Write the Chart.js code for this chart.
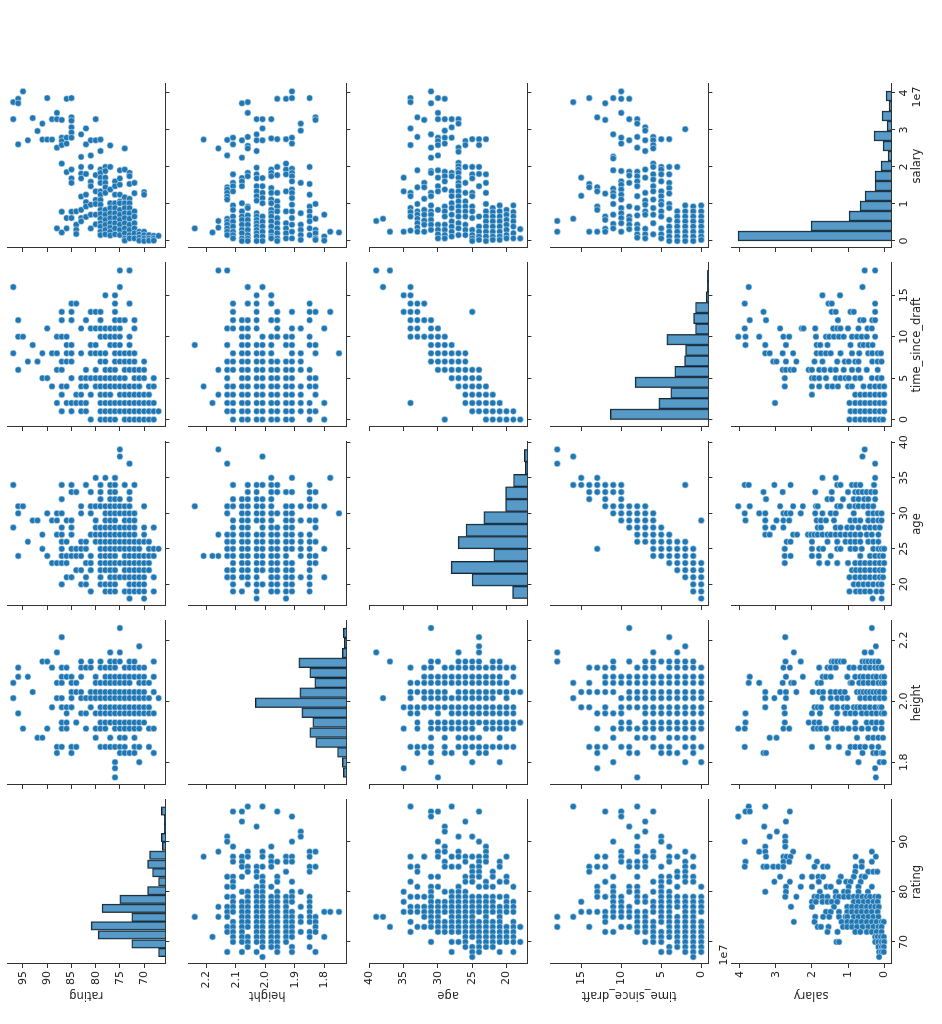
<!DOCTYPE html>
<html>
<head>
<meta charset="utf-8">
<title>pairplot</title>
<script src="https://cdn.jsdelivr.net/npm/chart.js@4"></script>
<style>
    html, body { margin: 0; padding: 0; background: #fff; overflow: hidden; width: 942px; height: 1024px; }
    /* the whole figure lies on its side, so the grid is turned a quarter left */
    #figure { position: absolute; left: 0; top: 1024px; width: 1024px; height: 942px; transform-origin: 0 0; transform: rotate(-90deg); }
    #figure canvas { position: absolute; }
</style>
</head>
<body>
<div id="figure"></div>
<script>
const variables = ['rating', 'height', 'age', 'time_since_draft', 'salary'];

// axis ranges and ticks, salary in units of 1e7
const axisMin = [65.6, 1.725, 16.95, -0.9, -0.19];
const axisMax = [98.3, 2.263, 40.05, 18.9, 4.24];
const xTicks = [[70, 80, 90], [1.8, 2.0, 2.2], [20, 25, 30, 35, 40], [0, 5, 10, 15], [0, 1, 2, 3, 4]];
const yTicks = [[70, 75, 80, 85, 90, 95], [1.8, 1.9, 2.0, 2.1, 2.2], [20, 25, 30, 35, 40], [0, 5, 10, 15], [0, 1, 2, 3, 4]];

// values that occur in the picture, one row of the lists below per level
const heightLevels = [2.24, 2.21, 2.18, 2.16, 2.13, 2.11, 2.08, 2.06, 2.03, 2.01, 1.98, 1.96, 1.93, 1.91, 1.88, 1.85, 1.83, 1.80, 1.78, 1.75];
const ageLevels = [39, 38, 37, 35, 34, 33, 32, 31, 30, 29, 28, 27, 26, 25, 24, 23, 22, 21, 20, 19, 18];
const timeLevels = [18, 16, 15, 14, 13, 12, 11, 10, 9, 8, 7, 6, 5, 4, 3, 2, 1, 0];
const ratingLevels = [97, 96, 95, 94, 93, 92, 91, 90, 89, 88, 87, 86, 85, 84, 83, 82, 81, 80, 79, 78, 77, 76, 75, 74, 73, 72, 71, 70, 69, 68, 67];

const ratingAtHeight = [
    [75], [87], [71], [88, 77, 75],
    [91, 90, 83, 81, 79, 77, 76, 75, 73, 72, 68],
    [96, 89, 87, 86, 83, 82, 81, 79, 78, 77, 76, 74, 73, 72, 71, 70],
    [96, 94, 87, 86, 85, 83, 80, 78, 77, 76, 75, 74, 73, 72, 71, 70, 68],
    [97, 88, 87, 85, 84, 80, 79, 78, 77, 76, 75, 74, 73, 71, 70, 69],
    [93, 85, 84, 83, 81, 80, 79, 78, 77, 76, 75, 74, 73, 72, 71, 70, 68],
    [97, 88, 87, 85, 83, 82, 81, 80, 79, 78, 77, 76, 75, 74, 73, 72, 71, 70, 69, 67],
    [89, 87, 86, 85, 81, 79, 78, 77, 76, 75, 74, 73, 72, 71, 70, 69],
    [96, 86, 83, 82, 80, 79, 78, 77, 76, 75, 74, 73, 72, 71, 70, 69, 68],
    [87, 86, 84, 79, 78, 77, 76, 75, 74, 73, 72, 71, 70],
    [95, 90, 87, 86, 82, 80, 79, 78, 76, 75, 74, 73, 72, 71, 69, 68],
    [92, 91, 80, 77, 75, 74, 72],
    [88, 87, 85, 84, 79, 78, 77, 76, 75, 74, 72, 71, 69],
    [88, 85, 75, 74, 73, 72, 68],
    [76, 71], [76], [76]
];
const heightAtAge = [
    [2.16], [2.01], [2.13],
    [1.98, 1.91, 1.78],
    [2.11, 2.06, 2.03, 2.01, 1.98, 1.96, 1.85],
    [2.06, 2.03, 1.98, 1.96, 1.93, 1.91, 1.85, 1.83],
    [2.11, 2.08, 2.06, 2.03, 2.01, 1.98, 1.85],
    [2.24, 2.13, 2.11, 2.08, 2.06, 2.03, 2.01, 1.98, 1.93, 1.91, 1.88, 1.85, 1.83, 1.80],
    [2.13, 2.08, 2.06, 2.03, 2.01, 1.98, 1.96, 1.93, 1.91, 1.75],
    [2.11, 2.08, 2.06, 2.03, 2.01, 1.98, 1.93, 1.91, 1.88, 1.85, 1.83],
    [2.11, 2.08, 2.06, 2.01, 1.98, 1.96, 1.93, 1.91, 1.83],
    [2.16, 2.13, 2.11, 2.08, 2.06, 2.03, 2.01, 1.98, 1.96, 1.93, 1.91, 1.88, 1.85],
    [2.13, 2.11, 2.08, 2.06, 2.03, 2.01, 1.98, 1.96, 1.93, 1.91, 1.88, 1.85, 1.83],
    [2.13, 2.11, 2.08, 2.06, 2.03, 2.01, 1.98, 1.96, 1.93, 1.91, 1.88, 1.85, 1.80],
    [2.21, 2.18, 2.16, 2.13, 2.11, 2.08, 2.06, 2.03, 2.01, 1.98, 1.96, 1.93, 1.88, 1.85, 1.83],
    [2.11, 2.08, 2.06, 2.03, 2.01, 1.98, 1.96, 1.93, 1.91, 1.85, 1.83],
    [2.13, 2.11, 2.08, 2.06, 2.03, 2.01, 1.98, 1.96, 1.93, 1.91, 1.85],
    [2.13, 2.11, 2.08, 2.06, 2.03, 1.98, 1.96, 1.93, 1.91, 1.88, 1.85, 1.80],
    [2.11, 2.06, 2.03, 2.01, 1.98, 1.96, 1.93, 1.91, 1.85],
    [2.11, 2.08, 2.03, 1.98, 1.96, 1.93, 1.91, 1.85],
    [2.03, 1.93]
];
const heightAtTime = [
    [2.16, 2.13], [2.06, 2.01], [2.03, 1.98],
    [2.11, 2.06, 2.03, 1.98, 1.85],
    [2.11, 2.03, 1.96, 1.91, 1.85, 1.83, 1.78],
    [2.11, 2.08, 2.06, 2.03, 1.98, 1.96, 1.85],
    [2.13, 2.11, 2.08, 2.06, 2.03, 1.96, 1.91, 1.88, 1.80],
    [2.08, 2.06, 2.01, 1.98, 1.96, 1.93, 1.91, 1.85],
    [2.24, 2.13, 2.08, 2.06, 2.03, 2.01, 1.98, 1.93, 1.91, 1.85, 1.83],
    [2.11, 2.08, 2.06, 2.03, 2.01, 1.98, 1.91, 1.88, 1.83, 1.75],
    [2.13, 2.11, 2.08, 2.06, 2.03, 2.01, 1.98, 1.96, 1.93, 1.91, 1.88],
    [2.16, 2.13, 2.11, 2.08, 2.06, 2.03, 2.01, 1.98, 1.96, 1.93, 1.91, 1.88, 1.85],
    [2.13, 2.08, 2.06, 2.03, 2.01, 1.98, 1.96, 1.93, 1.91, 1.85, 1.83],
    [2.21, 2.13, 2.11, 2.08, 2.06, 2.03, 2.01, 1.98, 1.96, 1.93, 1.91, 1.88, 1.85, 1.83],
    [2.16, 2.13, 2.11, 2.08, 2.06, 2.03, 2.01, 1.98, 1.96, 1.93, 1.91, 1.88, 1.83],
    [2.18, 2.13, 2.11, 2.08, 2.06, 2.03, 2.01, 1.98, 1.96, 1.93, 1.91, 1.88, 1.85, 1.80],
    [2.13, 2.11, 2.08, 2.06, 2.03, 2.01, 1.98, 1.96, 1.93, 1.91, 1.88, 1.85, 1.83],
    [2.11, 2.08, 2.06, 2.03, 2.01, 1.98, 1.96, 1.93, 1.91, 1.85, 1.80]
];
const ratingAtAge = [
    [75], [75], [73],
    [80, 78, 76],
    [97, 87, 85, 82, 79, 77, 76, 74, 72],
    [85, 84, 81, 79, 77, 76, 73],
    [87, 79, 77, 76, 75, 73],
    [96, 95, 83, 81, 80, 79, 78, 77, 76, 75, 74, 73, 70],
    [96, 90, 88, 87, 83, 81, 78, 77, 76, 75, 74, 73, 72],
    [93, 92, 89, 88, 86, 85, 80, 78, 77, 76, 74, 73, 72],
    [97, 87, 85, 80, 79, 78, 77, 76, 75, 74, 73, 72, 70, 68],
    [91, 88, 87, 85, 81, 80, 79, 78, 77, 76, 75, 74, 73, 72, 70],
    [94, 87, 86, 83, 82, 80, 79, 78, 77, 76, 75, 74, 73, 72, 71, 70, 69],
    [91, 87, 85, 84, 83, 82, 79, 78, 77, 76, 75, 74, 73, 72, 71, 69, 68, 67],
    [96, 90, 87, 86, 85, 84, 83, 81, 79, 78, 77, 76, 74, 73, 72, 71, 70, 69, 68],
    [89, 88, 87, 86, 82, 81, 79, 78, 77, 76, 75, 74, 73, 72, 71, 70, 69],
    [84, 83, 81, 79, 78, 77, 76, 74, 73, 72, 71, 70, 69],
    [86, 85, 82, 79, 77, 76, 75, 74, 73, 72, 71, 70, 68],
    [87, 83, 82, 79, 78, 77, 76, 73, 72, 71, 70],
    [81, 78, 77, 76, 74, 73, 72, 71, 70, 68],
    [73, 70]
];
const ratingAtTime = [
    [75, 73], [97, 75], [78, 76],
    [85, 84, 76, 73],
    [87, 85, 81, 80, 79, 76],
    [96, 87, 85, 82, 79, 76, 75, 74, 72],
    [90, 83, 81, 80, 79, 78, 77, 76, 75, 72],
    [96, 95, 88, 87, 86, 79, 78, 77, 76, 75, 73],
    [93, 86, 85, 81, 80, 77, 76, 75, 73],
    [97, 91, 89, 88, 86, 85, 83, 81, 80, 79, 78, 76, 75, 74, 73, 72],
    [94, 92, 87, 86, 85, 79, 78, 76, 75, 74, 73, 72, 70],
    [96, 88, 87, 82, 80, 78, 77, 76, 74, 73, 72, 71, 70],
    [91, 90, 85, 83, 82, 81, 80, 79, 78, 77, 76, 75, 74, 72, 71, 70, 68],
    [89, 87, 86, 83, 82, 80, 79, 78, 77, 76, 75, 74, 73, 72, 71, 69, 68],
    [87, 84, 83, 81, 79, 78, 77, 75, 74, 73, 72, 71, 70, 69],
    [88, 86, 85, 84, 83, 82, 79, 78, 77, 76, 75, 74, 73, 72, 71, 70, 69, 68],
    [87, 85, 83, 82, 79, 78, 77, 76, 75, 74, 73, 72, 71, 70, 69, 68, 67],
    [81, 79, 78, 77, 76, 74, 73, 72, 71, 70, 69, 68]
];
const ageAtTime = [
    [39, 37], [38, 34], [35, 34], [34, 33, 32], [35, 34, 33, 25], [34, 33, 32, 31],
    [34, 33, 31, 30], [34, 33, 32, 31, 30, 29], [31, 30, 29, 28], [31, 30, 29, 28, 27, 26],
    [31, 30, 29, 28, 27, 26], [30, 29, 28, 27, 26, 25, 24], [28, 27, 26, 25, 24],
    [27, 26, 25, 24, 23], [26, 25, 24, 23, 22], [34, 26, 25, 24, 23, 22, 21],
    [25, 24, 23, 22, 21, 20, 19], [29, 23, 22, 21, 20, 19, 18]
];
const salaryAtRating = [
    [3.75, 3.29], [3.84, 3.72, 2.61], [4.04], [2.72], [3.32], [2.97], [3.17, 2.74], [3.86, 2.74], [3.29, 2.74],
    [3.46, 3.29, 2.52, 0.34],
    [3.27, 2.79, 2.70, 2.59, 2.09, 0.79, 0.23],
    [3.84, 2.79, 2.63, 1.86, 0.62, 0.34],
    [3.86, 3.34, 3.25, 3.07, 2.93, 2.79, 1.93, 1.69, 1.57, 0.79, 0.62],
    [0.80, 0.44, 0.30, 0.19],
    [2.88, 2.27, 2.00, 1.82, 1.69, 1.20, 0.84, 0.62, 0.53],
    [3.04, 2.61, 1.81, 1.25, 1.05, 0.93, 0.65],
    [2.72, 2.31, 2.00, 1.60, 1.48, 0.98, 0.71, 0.34],
    [3.29, 2.72, 1.78, 1.34, 1.11, 1.00, 0.71, 0.45],
    [2.74, 2.43, 1.93, 1.84, 1.71, 1.57, 1.34, 1.25, 1.11, 0.98, 0.84, 0.73, 0.60, 0.48, 0.39, 0.25, 0.16],
    [2.00, 1.89, 1.71, 1.57, 1.45, 1.30, 0.84, 0.71, 0.57, 0.44, 0.30, 0.18],
    [2.58, 2.00, 1.39, 1.02, 0.89, 0.75, 0.62, 0.48, 0.36, 0.25, 0.15],
    [1.61, 1.48, 1.25, 1.02, 0.89, 0.75, 0.62, 0.48, 0.34, 0.18],
    [1.91, 1.69, 1.52, 1.25, 1.07, 1.02, 0.84, 0.71, 0.57, 0.44, 0.30, 0.16],
    [2.50, 1.93, 1.18, 1.02, 0.89, 0.75, 0.62, 0.48, 0.34, 0.21, 0.07, 0.01],
    [1.84, 1.75, 1.54, 1.14, 1.02, 0.89, 0.75, 0.60, 0.44, 0.30, 0.16, 0.07],
    [1.57, 1.29, 0.80, 0.66, 0.48, 0.34, 0.21, 0.07],
    [0.25, 0.18, 0.09, 0.01],
    [1.32, 1.25, 0.25, 0.16, 0.07, 0.00],
    [0.16, 0.07, 0.01],
    [0.14, 0.07, 0.01],
    [0.14]
];
const salaryAtHeight = [
    [0.34], [2.74], [0.23], [2.50, 0.54, 0.36],
    [2.73, 2.31, 1.45, 1.39, 1.30, 1.20, 1.12, 0.60, 0.52, 0.44, 0.34, 0.25, 0.16],
    [2.79, 2.61, 1.80, 1.57, 1.48, 1.34, 0.96, 0.84, 0.66, 0.52, 0.39, 0.25, 0.16, 0.07],
    [3.72, 2.72, 2.25, 1.70, 1.61, 1.48, 1.02, 0.80, 0.66, 0.57, 0.44, 0.30, 0.21, 0.07, 0.00],
    [3.75, 3.46, 2.81, 2.57, 2.50, 1.84, 1.75, 0.93, 0.89, 0.69, 0.57, 0.44, 0.30, 0.16, 0.07, 0.00],
    [3.29, 2.88, 2.72, 2.43, 1.98, 1.80, 1.69, 1.48, 1.34, 1.21, 1.09, 0.75, 0.66, 0.57, 0.48, 0.39, 0.30, 0.21, 0.12, 0.00],
    [3.29, 3.04, 2.72, 1.70, 1.48, 1.30, 1.16, 1.02, 0.66, 0.52, 0.39, 0.25, 0.12, 0.00],
    [3.29, 2.77, 1.93, 1.84, 1.75, 1.43, 1.30, 1.12, 1.02, 0.84, 0.75, 0.66, 0.53, 0.39, 0.25, 0.12, 0.07],
    [3.84, 2.75, 2.00, 1.78, 1.30, 1.07, 0.93, 0.80, 0.62, 0.48, 0.34, 0.21, 0.07, 0.00],
    [3.84, 2.75, 2.09, 1.93, 1.80, 1.34, 0.80, 0.48, 0.34, 0.21, 0.07],
    [4.04, 3.86, 2.79, 2.63, 1.95, 1.84, 1.75, 1.61, 1.39, 1.30, 1.16, 0.98, 0.80, 0.62, 0.44, 0.25, 0.07],
    [3.17, 2.98, 1.57, 0.75, 0.44, 0.30, 0.16, 0.03],
    [3.86, 2.00, 1.54, 1.25, 0.93, 0.80, 0.66, 0.53, 0.34, 0.16],
    [3.34, 3.27, 1.00, 0.60, 0.30, 0.21, 0.07, 0.03],
    [0.71, 0.12, 0.01], [0.25], [0.23]
];
const salaryAtAge = [
    [0.54], [0.60], [0.25],
    [1.71, 1.34, 0.25],
    [3.86, 3.75, 3.04, 2.59, 1.30, 1.21, 0.89, 0.78, 0.66, 0.28],
    [3.34, 2.81, 1.91, 1.45, 1.00, 0.80, 0.71, 0.60, 0.48, 0.36, 0.25],
    [3.27, 1.57, 1.45, 1.14, 0.84, 0.71, 0.55, 0.44, 0.25],
    [4.04, 3.72, 2.88, 2.52, 2.25, 1.89, 1.84, 1.30, 1.21, 0.96, 0.80, 0.71, 0.57, 0.44, 0.30],
    [3.86, 3.46, 3.29, 2.79, 2.70, 2.59, 2.31, 1.91, 1.71, 1.48, 1.34, 0.84, 0.44, 0.30, 0.18, 0.07],
    [3.84, 3.29, 2.98, 2.79, 2.63, 1.87, 1.75, 1.61, 1.39, 0.93, 0.80, 0.66, 0.44, 0.30, 0.16, 0.07],
    [3.29, 3.07, 2.79, 1.84, 1.75, 1.34, 1.21, 1.02, 0.89, 0.71, 0.53, 0.39, 0.25, 0.12],
    [3.29, 3.17, 2.52, 2.41, 2.11, 2.02, 1.93, 1.84, 1.71, 1.57, 1.48, 1.34, 1.21, 1.07, 0.93, 0.80, 0.66, 0.48, 0.34, 0.16],
    [2.70, 2.59, 2.00, 1.57, 1.30, 1.07, 0.93, 0.80, 0.66, 0.44, 0.30, 0.16],
    [2.75, 2.00, 1.80, 1.69, 1.30, 1.21, 0.93, 0.80, 0.62, 0.30, 0.16, 0.07, 0.00],
    [2.75, 2.59, 2.00, 1.81, 1.48, 0.66, 0.39, 0.25, 0.12, 0.03],
    [2.75, 1.80, 1.57, 1.30, 1.00, 0.80, 0.66, 0.53, 0.39, 0.25, 0.12, 0.00],
    [0.89, 0.78, 0.66, 0.53, 0.39, 0.25, 0.12, 0.03],
    [0.96, 0.80, 0.66, 0.53, 0.39, 0.25, 0.12, 0.03],
    [0.84, 0.71, 0.57, 0.44, 0.30, 0.16, 0.07],
    [0.96, 0.78, 0.66, 0.53, 0.39, 0.21, 0.07],
    [0.32, 0.07]
];
const salaryAtTime = [
    [0.54, 0.25], [3.75, 0.60], [1.71, 1.22],
    [3.86, 1.54, 1.45, 0.25],
    [3.34, 1.45, 1.34, 0.93, 0.84, 0.25],
    [3.72, 3.27, 1.28, 0.66, 0.57, 0.33, 0.25],
    [3.86, 2.88, 2.28, 2.23, 1.91, 1.41, 1.30, 1.21, 1.00, 0.71, 0.46, 0.34],
    [4.04, 3.84, 3.46, 2.79, 2.63, 1.89, 1.61, 1.52, 1.39, 1.25, 1.12, 0.89, 0.75, 0.62, 0.48, 0.25],
    [3.84, 3.29, 2.72, 1.87, 1.77, 1.57, 0.93, 0.66, 0.57, 0.44, 0.32],
    [3.29, 3.17, 2.81, 2.52, 1.87, 1.75, 1.61, 1.48, 1.21, 0.89, 0.69, 0.44, 0.33, 0.18, 0.09],
    [3.07, 2.98, 2.72, 2.43, 1.93, 1.71, 1.30, 1.09, 0.98, 0.80, 0.71, 0.33, 0.18, 0.07],
    [2.81, 2.72, 2.59, 2.50, 2.09, 2.00, 1.80, 1.66, 1.48, 1.34, 1.12, 0.89, 0.71, 0.48, 0.18],
    [2.75, 2.00, 1.93, 1.80, 1.61, 1.34, 1.21, 1.07, 0.98, 0.80, 0.66, 0.34, 0.18, 0.07],
    [2.75, 2.00, 1.80, 1.57, 1.43, 1.28, 1.00, 0.89, 0.57, 0.39, 0.25, 0.12, 0.00],
    [2.00, 0.80, 0.66, 0.53, 0.39, 0.25, 0.12, 0.00],
    [3.02, 0.96, 0.80, 0.66, 0.53, 0.39, 0.25, 0.12, 0.00],
    [0.93, 0.80, 0.66, 0.53, 0.39, 0.25, 0.12, 0.00],
    [0.96, 0.80, 0.66, 0.53, 0.39, 0.25, 0.12, 0.03]
];

// histograms: bin centres and counts
const ratingBins = [67.9, 69.6, 71.4, 73.2, 74.9, 76.7, 78.5, 80.2, 82.0, 83.8, 85.5, 87.3, 89.1, 90.8, 92.6, 94.4, 96.1];
const ratingCounts = [7, 34, 68, 75, 34, 64, 46, 18, 7, 13, 18, 16, 3, 4, 1, 1, 4];
const heightBins = [1.766, 1.799, 1.832, 1.864, 1.897, 1.930, 1.962, 1.995, 2.028, 2.060, 2.093, 2.126, 2.158, 2.191, 2.224];
const heightCounts = [3, 4, 9, 31, 37, 34, 45, 92, 47, 32, 37, 48, 4, 2, 3];
const ageBins = [18.875, 20.625, 22.375, 24.125, 25.875, 27.625, 29.375, 31.125, 32.875, 34.625, 36.375, 38.125];
const ageCounts = [15, 56, 77, 34, 70, 62, 44, 22, 22, 14, 2, 3];
const timeBins = [0.64, 1.93, 3.21, 4.5, 5.79, 7.07, 8.36, 9.64, 10.93, 12.21, 13.5, 14.79, 16.07, 17.36];
const timeCounts = [99, 50, 38, 74, 34, 24, 23, 42, 13, 15, 13, 2, 1, 1];
const salaryBins = [0.135, 0.405, 0.675, 0.945, 1.215, 1.485, 1.755, 2.025, 2.295, 2.565, 2.835, 3.105, 3.375, 3.645, 3.915];
const salaryCounts = [153, 80, 42, 31, 26, 16, 16, 10, 3, 8, 17, 4, 9, 2, 5];

const histBins = [ratingBins, heightBins, ageBins, timeBins, salaryBins];
const histCounts = [ratingCounts, heightCounts, ageCounts, timeCounts, salaryCounts];

// turn "values per level" rows into points with both variables named
function rowsToPoints(rows, rowName, levels, levelName) {
    const points = [];
    rows.forEach((row, k) => {
        row.forEach(v => {
            points.push({ [rowName]: v, [levelName]: levels[k] });
        });
    });
    return points;
}

const pairPoints = [
    rowsToPoints(ratingAtHeight, 'rating', heightLevels, 'height'),
    rowsToPoints(ratingAtAge, 'rating', ageLevels, 'age'),
    rowsToPoints(ratingAtTime, 'rating', timeLevels, 'time_since_draft'),
    rowsToPoints(salaryAtRating, 'salary', ratingLevels, 'rating'),
    rowsToPoints(heightAtAge, 'height', ageLevels, 'age'),
    rowsToPoints(heightAtTime, 'height', timeLevels, 'time_since_draft'),
    rowsToPoints(salaryAtHeight, 'salary', heightLevels, 'height'),
    rowsToPoints(ageAtTime, 'age', timeLevels, 'time_since_draft'),
    rowsToPoints(salaryAtAge, 'salary', ageLevels, 'age'),
    rowsToPoints(salaryAtTime, 'salary', timeLevels, 'time_since_draft')
];

function pointsFor(xName, yName) {
    const list = pairPoints.find(p => xName in p[0] && yName in p[0]);
    return list.map(p => ({ x: p[xName], y: p[yName] }));
}

// panel positions in the unrotated figure
const colLeft = [60, 239, 418, 597, 776];
const rowTop = [7, 188, 369, 550, 731];
const plotW = 164;
const plotH = 160;
const pad = 14;

const textColor = '#262626';
const lineColor = '#333333';
const tickFont = { family: 'DejaVu Sans', size: 11 };

// offset text of the salary axes
const offsetText = {
    id: 'offsetText',
    afterDraw(chart, args, opts) {
        if (!opts.x && !opts.y) return;
        const ctx = chart.ctx, area = chart.chartArea;
        ctx.save();
        ctx.font = '11px "DejaVu Sans"';
        ctx.fillStyle = textColor;
        ctx.textAlign = 'center';
        ctx.textBaseline = 'middle';
        if (opts.x) ctx.fillText('1e7', area.right - 13, area.bottom + 26);
        if (opts.y) ctx.fillText('1e7', area.left + 9, area.top - 7);
        ctx.restore();
    }
};

function tickLabel(varIndex, value) {
    return varIndex === 1 ? value.toFixed(1) : String(value);
}

function makeAxis(varIndex, ticksList, showLabels, fitKey, fitSize) {
    return {
        type: 'linear',
        min: axisMin[varIndex],
        max: axisMax[varIndex],
        offset: false,
        grid: { display: true, offset: false, drawOnChartArea: false, drawTicks: true, tickLength: 4, color: lineColor },
        border: { display: true, color: lineColor, width: 1 },
        afterBuildTicks: s => { s.ticks = ticksList.map(v => ({ value: v })); },
        afterFit: s => { s[fitKey] = fitSize; },
        ticks: {
            autoSkip: false,
            maxRotation: 0,
            minRotation: 0,
            padding: 3,
            color: textColor,
            font: tickFont,
            callback: v => showLabels ? tickLabel(varIndex, v) : ''
        },
        title: {
            display: showLabels,
            text: variables[varIndex],
            color: textColor,
            font: { family: 'DejaVu Sans', size: 11.5 },
            padding: { top: 0, bottom: 1 }
        }
    };
}

const figure = document.getElementById('figure');

variables.forEach((yName, row) => {
    variables.forEach((xName, col) => {
        const leftSpace = col === 0 ? 38 : 8;
        const bottomSpace = row === 4 ? 34 : 8;
        const canvas = document.createElement('canvas');
        canvas.width = leftSpace + plotW + pad;
        canvas.height = pad + plotH + bottomSpace;
        canvas.style.width = canvas.width + 'px';
        canvas.style.height = canvas.height + 'px';
        canvas.style.left = (colLeft[col] - leftSpace) + 'px';
        canvas.style.top = (rowTop[row] - pad) + 'px';
        figure.appendChild(canvas);

        const scales = {
            x: makeAxis(col, xTicks[col], row === 4, 'height', bottomSpace),
            y: makeAxis(row, yTicks[row], col === 0, 'width', leftSpace)
        };

        let type, datasets;
        if (row === col) {
            // diagonal: histogram on its own hidden count axis
            type = 'bar';
            scales.count = { type: 'linear', display: false, min: 0, max: 160, position: 'right' };
            datasets = [{
                yAxisID: 'count',
                data: histBins[col].map((b, k) => ({ x: b, y: histCounts[col][k] })),
                backgroundColor: 'rgba(31,119,180,0.75)',
                borderColor: '#222222',
                borderWidth: 1,
                barPercentage: 1,
                categoryPercentage: 1
            }];
        } else {
            type = 'scatter';
            datasets = [{
                data: pointsFor(xName, yName),
                backgroundColor: '#1f77b4',
                borderColor: 'rgba(255,255,255,0.8)',
                borderWidth: 0.6,
                pointRadius: 3.2,
                clip: false
            }];
        }

        new Chart(canvas, {
            type: type,
            data: { datasets: datasets },
            options: {
                responsive: false,
                animation: false,
                devicePixelRatio: 1,
                layout: { padding: { top: pad, right: pad, left: 0, bottom: 0 } },
                scales: scales,
                plugins: {
                    legend: { display: false },
                    tooltip: { enabled: false },
                    offsetText: { x: row === 4 && col === 4, y: row === 4 && col === 0 }
                }
            },
            plugins: [offsetText]
        });
    });
});
</script>
</body>
</html>
